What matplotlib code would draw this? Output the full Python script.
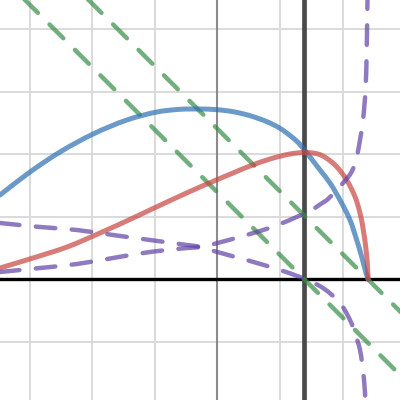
import matplotlib
matplotlib.use("Agg")
import matplotlib.pyplot as plt
from matplotlib.path import Path
from matplotlib.patches import PathPatch
import numpy as np

# ---- data (graph units) ----
grid_x = [-3, -2, -1, 0, 1, 2]
grid_y = [-1, 0, 1, 2, 3, 4]
marker_line_x = 1.385      # thick vertical line
axis_line_x = 0.0          # gray vertical line

blue_x = [-3.48, -3.00, -2.52, -1.99, -1.45, -0.97, -0.60, -0.28, -0.01, 0.25, 0.52,
          0.79, 1.00, 1.21, 1.32, 1.48, 1.64, 1.80, 1.96, 2.12, 2.227, 2.307, 2.376, 2.41]
blue_y = [1.344, 1.712, 2.032, 2.32, 2.544, 2.672, 2.715, 2.72, 2.709, 2.677, 2.613,
          2.517, 2.411, 2.256, 2.152, 1.952, 1.744, 1.536, 1.264, 0.944, 0.624, 0.357, 0.096, 0.0]

red_x = [-3.48, -2.952, -2.408, -1.88, -1.352, -0.808, -0.28, 0.248, 0.52, 0.84, 1.16,
         1.40, 1.608, 1.747, 1.907, 2.067, 2.20, 2.28, 2.333, 2.371, 2.397, 2.41]
red_y = [0.176, 0.336, 0.512, 0.736, 0.976, 1.232, 1.472, 1.696, 1.808, 1.92, 2.00,
         2.024, 2.00, 1.931, 1.797, 1.584, 1.317, 1.056, 0.784, 0.517, 0.251, 0.0]

purple_up_x = [-3.48, -2.84, -2.248, -1.672, -1.08, -0.488, -0.264, -0.12, 0.52, 0.92,
               1.32, 1.48, 1.64, 1.768, 2.008, 2.147, 2.227, 2.28, 2.328, 2.368, 2.387,
               2.40, 2.403]
purple_up_y = [0.112, 0.176, 0.24, 0.336, 0.432, 0.496, 0.512, 0.544, 0.72, 0.848,
               1.016, 1.088, 1.192, 1.28, 1.536, 1.717, 1.952, 2.224, 2.544, 3.024, 3.664,
               4.464, 4.60]

purple_dn_x = [-3.48, -2.84, -2.248, -1.672, -1.08, -0.488, -0.264, -0.12, 0.52, 1.00,
               1.32, 1.432, 1.688, 1.96, 2.12, 2.20, 2.28, 2.328, 2.36, 2.376]
purple_dn_y = [0.896, 0.832, 0.784, 0.704, 0.624, 0.544, 0.512, 0.464, 0.288, 0.144,
               0.032, -0.016, -0.144, -0.384, -0.656, -0.864, -1.136, -1.456, -1.824, -2.10]

green1_x = [-3.60, 3.00]
green1_y = [4.985, -1.615]
green2_x = [-2.50, 3.00]
green2_y = [4.902, -0.598]

# ---- styles ----
BLUE = "#2d70b3"
RED = "#c74440"
GREEN = "#388c46"
PURPLE = "#6042a6"

fig = plt.figure(figsize=(4, 4), dpi=100)
ax = fig.add_axes([0, 0, 1, 1])
ax.set_xlim(-3.48, 2.92)
ax.set_ylim(-1.936, 4.464)
ax.axis("off")


def smooth_path(xs, ys):
    """Cubic Bezier path through the read points (chord-length Hermite tangents)."""
    p = np.column_stack([xs, ys]).astype(float)
    n = len(p)
    d = np.linalg.norm(np.diff(p, axis=0), axis=1)
    t = np.concatenate([[0.0], np.cumsum(d)])
    m = np.zeros_like(p)
    m[0] = (p[1] - p[0]) / (t[1] - t[0])
    m[-1] = (p[-1] - p[-2]) / (t[-1] - t[-2])
    for i in range(1, n - 1):
        m[i] = (p[i + 1] - p[i - 1]) / (t[i + 1] - t[i - 1])
    verts = [p[0]]
    codes = [Path.MOVETO]
    for i in range(n - 1):
        h = t[i + 1] - t[i]
        verts += [p[i] + m[i] * h / 3.0, p[i + 1] - m[i + 1] * h / 3.0, p[i + 1]]
        codes += [Path.CURVE4] * 3
    return Path(verts, codes)


def draw_curve(xs, ys, color, lw, dashed, z=5):
    kw = dict(fill=False, edgecolor=color, alpha=0.7, lw=lw,
              capstyle="round", joinstyle="round", zorder=z)
    if dashed:
        kw["linestyle"] = (0, (4.4, 3.7))
    ax.add_patch(PathPatch(smooth_path(xs, ys), **kw))


for gx in grid_x:
    ax.axvline(gx, color="#dadada", lw=1.4, zorder=0)
for gy in grid_y:
    ax.axhline(gy, color="#dadada", lw=1.4, zorder=0)

ax.axvline(axis_line_x, color="#8c8c8c", lw=1.5, zorder=1)
ax.axhline(0, color="black", lw=2.4, zorder=2)
ax.axvline(marker_line_x, color="#4a4a4a", lw=3.4, zorder=3)

dash_kw = dict(lw=3.2, alpha=0.7, dash_capstyle="round", dashes=(4.4, 3.7), zorder=4)
ax.plot(green1_x, green1_y, color=GREEN, **dash_kw)
ax.plot(green2_x, green2_y, color=GREEN, **dash_kw)

draw_curve(blue_x, blue_y, BLUE, 3.6, False)
draw_curve(red_x, red_y, RED, 3.6, False)
draw_curve(purple_up_x, purple_up_y, PURPLE, 3.2, True)
draw_curve(purple_dn_x, purple_dn_y, PURPLE, 3.2, True)

fig.savefig("out.png", dpi=100)
